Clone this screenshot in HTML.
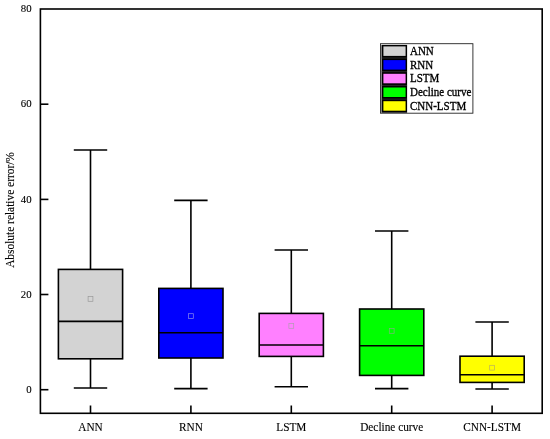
<!DOCTYPE html>
<html><head><meta charset="utf-8"><title>Box plot</title>
<style>
html,body{margin:0;padding:0;background:#fff;}
svg{display:block;}
text{font-family:"Liberation Serif","DejaVu Serif",serif;fill:#000;}
.lg{stroke:#000;stroke-width:0.3px;}
.ax{stroke:#000;stroke-width:0.12px;}
</style></head><body>
<svg width="550" height="439" viewBox="0 0 550 439">
<rect x="0" y="0" width="550" height="439" fill="#ffffff"/>

<g stroke="#000" stroke-width="1.6" fill="none">
<line x1="90.5" y1="150.0" x2="90.5" y2="269.4"/><line x1="90.5" y1="358.8" x2="90.5" y2="388.0"/>
<line x1="73.8" y1="150.0" x2="107.2" y2="150.0"/><line x1="73.8" y1="388.0" x2="107.2" y2="388.0"/>
<rect x="58.4" y="269.4" width="64.2" height="89.4" fill="#d3d3d3"/>
<line x1="58.4" y1="321.4" x2="122.6" y2="321.4"/>
<rect x="88.1" y="296.5" width="4.8" height="4.8" stroke="#999999" stroke-width="0.7"/>
</g>

<g stroke="#000" stroke-width="1.6" fill="none">
<line x1="190.9" y1="200.4" x2="190.9" y2="288.4"/><line x1="190.9" y1="358.0" x2="190.9" y2="388.6"/>
<line x1="174.20000000000002" y1="200.4" x2="207.6" y2="200.4"/><line x1="174.20000000000002" y1="388.6" x2="207.6" y2="388.6"/>
<rect x="158.8" y="288.4" width="64.2" height="69.6" fill="#0000ff"/>
<line x1="158.8" y1="332.8" x2="223.0" y2="332.8"/>
<rect x="188.5" y="313.7" width="4.8" height="4.8" stroke="#8a8aee" stroke-width="0.7"/>
</g>

<g stroke="#000" stroke-width="1.6" fill="none">
<line x1="291.3" y1="250.0" x2="291.3" y2="313.4"/><line x1="291.3" y1="356.4" x2="291.3" y2="386.8"/>
<line x1="274.6" y1="250.0" x2="308.0" y2="250.0"/><line x1="274.6" y1="386.8" x2="308.0" y2="386.8"/>
<rect x="259.2" y="313.4" width="64.2" height="43.0" fill="#ff80ff"/>
<line x1="259.2" y1="345.0" x2="323.40000000000003" y2="345.0"/>
<rect x="288.9" y="323.5" width="4.8" height="4.8" stroke="#b39ab3" stroke-width="0.7"/>
</g>

<g stroke="#000" stroke-width="1.6" fill="none">
<line x1="391.7" y1="231.0" x2="391.7" y2="309.0"/><line x1="391.7" y1="375.4" x2="391.7" y2="388.6"/>
<line x1="375.0" y1="231.0" x2="408.4" y2="231.0"/><line x1="375.0" y1="388.6" x2="408.4" y2="388.6"/>
<rect x="359.59999999999997" y="309.0" width="64.2" height="66.4" fill="#00ff00"/>
<line x1="359.59999999999997" y1="345.8" x2="423.8" y2="345.8"/>
<rect x="389.3" y="328.5" width="4.8" height="4.8" stroke="#7fb37f" stroke-width="0.7"/>
</g>

<g stroke="#000" stroke-width="1.6" fill="none">
<line x1="492.1" y1="322.0" x2="492.1" y2="356.2"/><line x1="492.1" y1="382.4" x2="492.1" y2="389.0"/>
<line x1="475.40000000000003" y1="322.0" x2="508.8" y2="322.0"/><line x1="475.40000000000003" y1="389.0" x2="508.8" y2="389.0"/>
<rect x="460.0" y="356.2" width="64.2" height="26.2" fill="#ffff00"/>
<line x1="460.0" y1="374.8" x2="524.2" y2="374.8"/>
<rect x="489.7" y="365.3" width="4.8" height="4.8" stroke="#b8b060" stroke-width="0.7"/>
</g>

<g stroke="#000" stroke-width="1.6" fill="none">
<rect x="40.4" y="9.0" width="501.8" height="404.3"/>
<line x1="40.4" y1="389.7" x2="48.4" y2="389.7"/>
<line x1="40.4" y1="294.5" x2="48.4" y2="294.5"/>
<line x1="40.4" y1="199.4" x2="48.4" y2="199.4"/>
<line x1="40.4" y1="104.2" x2="48.4" y2="104.2"/>
<line x1="90.5" y1="413.3" x2="90.5" y2="405.5"/>
<line x1="190.9" y1="413.3" x2="190.9" y2="405.5"/>
<line x1="291.3" y1="413.3" x2="291.3" y2="405.5"/>
<line x1="391.7" y1="413.3" x2="391.7" y2="405.5"/>
<line x1="492.1" y1="413.3" x2="492.1" y2="405.5"/>
</g>

<text transform="translate(31.6,392.8) scale(1,1.02)" class="ax" font-size="10.8" text-anchor="end">0</text>
<text transform="translate(31.6,297.6) scale(1,1.02)" class="ax" font-size="10.8" text-anchor="end">20</text>
<text transform="translate(31.6,202.5) scale(1,1.02)" class="ax" font-size="10.8" text-anchor="end">40</text>
<text transform="translate(31.6,107.3) scale(1,1.02)" class="ax" font-size="10.8" text-anchor="end">60</text>
<text transform="translate(31.6,12.1) scale(1,1.02)" class="ax" font-size="10.8" text-anchor="end">80</text>
<text transform="translate(90.5,431.1) scale(1,1.08)" class="ax" font-size="11.3" text-anchor="middle">ANN</text>
<text transform="translate(190.9,431.1) scale(1,1.08)" class="ax" font-size="11.3" text-anchor="middle">RNN</text>
<text transform="translate(291.3,431.1) scale(1,1.08)" class="ax" font-size="11.3" text-anchor="middle">LSTM</text>
<text transform="translate(391.7,431.1) scale(1,1.08)" class="ax" font-size="11.3" text-anchor="middle">Decline curve</text>
<text transform="translate(492.1,431.1) scale(1,1.08)" class="ax" font-size="11.3" text-anchor="middle">CNN-LSTM</text>
<text transform="translate(14,210) rotate(-90) scale(1,1.1)" class="ax" font-size="11.4" text-anchor="middle">Absolute relative error/%</text>

<rect x="380.5" y="43.7" width="92.4" height="69.5" fill="#fff" stroke="#222" stroke-width="0.9"/>
<rect x="381.5" y="44.9" width="25.6" height="67.8" fill="#000"/>
<line x1="381.5" y1="58.00" x2="407.1" y2="58.00" stroke="#555" stroke-width="0.5"/>
<line x1="381.5" y1="71.70" x2="407.1" y2="71.70" stroke="#555" stroke-width="0.5"/>
<line x1="381.5" y1="85.40" x2="407.1" y2="85.40" stroke="#555" stroke-width="0.5"/>
<line x1="381.5" y1="99.10" x2="407.1" y2="99.10" stroke="#555" stroke-width="0.5"/>
<rect x="383.4" y="46.40" width="22.2" height="9.5" fill="#d3d3d3"/>
<text class="lg" transform="translate(410,54.90) scale(1,1.08)" font-size="11">ANN</text>
<rect x="383.4" y="60.10" width="22.2" height="9.5" fill="#0000ff"/>
<text class="lg" transform="translate(410,68.60) scale(1,1.08)" font-size="11">RNN</text>
<rect x="383.4" y="73.80" width="22.2" height="9.5" fill="#ff80ff"/>
<text class="lg" transform="translate(410,82.30) scale(1,1.08)" font-size="11">LSTM</text>
<rect x="383.4" y="87.50" width="22.2" height="9.5" fill="#00ff00"/>
<text class="lg" transform="translate(410,96.00) scale(1,1.08)" font-size="11">Decline curve</text>
<rect x="383.4" y="101.20" width="22.2" height="9.5" fill="#ffff00"/>
<text class="lg" transform="translate(410,109.70) scale(1,1.08)" font-size="11">CNN-LSTM</text>

</svg></body></html>
